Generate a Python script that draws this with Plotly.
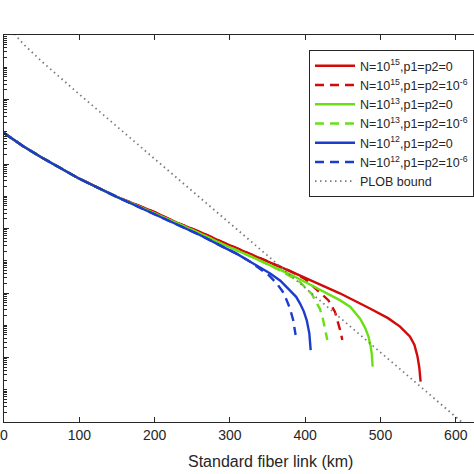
import plotly.graph_objects as go

# distances (km) and key rates
l_blue = [0, 25, 50, 75, 100, 150, 200, 230, 260, 290, 310, 327, 340, 353, 367, 380, 388, 393, 398, 402, 405.5, 407.3]
r_blue = [9.1e-4, 3.6e-4, 1.6e-4, 7.6e-5, 3.5e-5, 9.5e-6, 2.8e-6, 1.35e-6, 6.3e-7, 2.75e-7,
          1.6e-7, 9.3e-8, 6.3e-8, 4.1e-8, 2.4e-8, 1.23e-8, 7.6e-9, 4.8e-9, 2.75e-9, 1.45e-9, 5.6e-10, 1.7e-10]

l_blue_d = [0, 25, 50, 75, 100, 150, 200, 230, 260, 290, 310, 327, 340, 352, 362, 370, 375.4, 380, 384, 387.3]
r_blue_d = [9.1e-4, 3.6e-4, 1.6e-4, 7.6e-5, 3.5e-5, 9.5e-6, 2.8e-6, 1.35e-6, 6.3e-7, 2.75e-7,
            1.6e-7, 9.3e-8, 5.6e-8, 3.5e-8, 2.0e-8, 1.12e-8, 6.0e-9, 3.2e-9, 1.45e-9, 5.0e-10]

l_green = [0, 25, 50, 75, 100, 150, 200, 230, 260, 290, 327, 350, 380, 400, 420, 446, 460, 473, 480, 484, 487, 488.5, 489.6]
r_green = [9.1e-4, 3.6e-4, 1.6e-4, 7.6e-5, 3.5e-5, 9.5e-6, 3.0e-6, 1.45e-6, 7.1e-7, 3.3e-7,
           1.4e-7, 8.1e-8, 3.8e-8, 2.2e-8, 1.26e-8, 6.0e-9, 3.7e-9, 1.6e-9, 7.9e-10, 4.5e-10,
           2.2e-10, 1.26e-10, 5.2e-11]

l_green_d = [0, 25, 50, 75, 100, 150, 200, 230, 260, 290, 327, 340, 366.5, 393, 408.5, 415, 419.6, 423, 426, 429.4]
r_green_d = [9.1e-4, 3.6e-4, 1.6e-4, 7.6e-5, 3.5e-5, 9.5e-6, 3.0e-6, 1.45e-6, 7.1e-7, 3.3e-7,
             1.4e-7, 1.02e-7, 5.0e-8, 2.2e-8, 9.5e-9, 5.2e-9, 3.2e-9, 1.8e-9, 9.1e-10, 3.5e-10]

l_red = [0, 25, 50, 75, 100, 150, 200, 230, 260, 290, 327, 350, 380, 400, 420, 446, 486, 510, 526, 539, 545, 549, 551.5, 553.3]
r_red = [9.1e-4, 3.6e-4, 1.6e-4, 7.6e-5, 3.5e-5, 9.6e-6, 3.2e-6, 1.5e-6, 7.9e-7, 3.8e-7,
         1.66e-7, 9.5e-8, 4.8e-8, 2.95e-8, 1.86e-8, 9.8e-9, 3.3e-9, 1.66e-9, 9.1e-10, 4.5e-10,
         2.5e-10, 1.12e-10, 5.0e-11, 1.8e-11]

l_red_d = [0, 25, 50, 75, 100, 150, 200, 230, 260, 290, 327, 350, 380, 400, 415, 430.7, 439.6, 444, 447, 449.3]
r_red_d = [9.1e-4, 3.6e-4, 1.6e-4, 7.6e-5, 3.5e-5, 9.6e-6, 3.2e-6, 1.5e-6, 7.9e-7, 3.8e-7,
           1.66e-7, 9.5e-8, 4.8e-8, 2.7e-8, 1.32e-8, 6.0e-9, 2.6e-9, 1.15e-9, 6.3e-10, 3.5e-10]

l_plob = [10, 15, 25, 50, 100, 200, 300, 400, 500, 600, 650]
r_plob = [1.44, 1.0, 0.548, 0.152, 1.45e-2, 1.44e-4, 1.44e-6, 1.44e-8, 1.44e-10, 1.44e-12, 1.44e-13]

names = [
    "N=10<sup>15</sup>,p1=p2=0",
    "N=10<sup>15</sup>,p1=p2=10<sup>-6</sup>",
    "N=10<sup>13</sup>,p1=p2=0",
    "N=10<sup>13</sup>,p1=p2=10<sup>-6</sup>",
    "N=10<sup>12</sup>,p1=p2=0",
    "N=10<sup>12</sup>,p1=p2=10<sup>-6</sup>",
    "PLOB bound",
]

RED = "#d10a0a"
GREEN = "#6ae014"
BLUE = "#1c3ccc"

fig = go.Figure()

series = [
    (l_red, r_red, RED, "solid"),
    (l_red_d, r_red_d, RED, "dash"),
    (l_green, r_green, GREEN, "solid"),
    (l_green_d, r_green_d, GREEN, "dash"),
    (l_blue, r_blue, BLUE, "solid"),
    (l_blue_d, r_blue_d, BLUE, "dash"),
]
for (xs, ys, col, dash), nm in zip(series, names):
    fig.add_trace(go.Scatter(x=xs, y=ys, mode="lines", name=nm,
                             line=dict(color=col, width=2.4, dash=dash if dash == "solid" else "9px,6px")))

fig.add_trace(go.Scatter(x=l_plob, y=r_plob, mode="lines", name=names[6],
                         line=dict(color="#7a7a7a", width=1.8, dash="1.5px,3.5px")))

# minor ticks: each decade plus sub-decade marks
minor_vals = []
for e in range(-12, 0):
    for k in range(1, 10):
        if k == 1 and e % 2 == 0:
            continue
        minor_vals.append(k * 10.0 ** e)

axis_col = "#262626"
fig.update_xaxes(range=[0, 624.2], tickvals=[0, 100, 200, 300, 400, 500, 600],
                 ticks="inside", ticklen=5, tickcolor=axis_col, showline=True,
                 linecolor=axis_col, linewidth=1, mirror="ticks", showgrid=False,
                 zeroline=False, automargin=False, tickfont=dict(size=14, color=axis_col))
fig.update_yaxes(type="log", range=[-12, 0],
                 tickvals=[1e-12, 1e-10, 1e-8, 1e-6, 1e-4, 1e-2, 1],
                 ticks="inside", ticklen=5, tickcolor=axis_col, showline=True,
                 linecolor=axis_col, linewidth=1, showgrid=False, showticklabels=False,
                 automargin=False,
                 minor=dict(tickvals=minor_vals, ticks="inside", ticklen=2.5, tickcolor=axis_col))

# x title placed where the reference has it (plot is cropped on the right)
fig.add_annotation(text="Standard fiber link (km)", x=(270 - 4) / 470, y=-(461 - 422) / 387,
                   xref="paper", yref="paper", xanchor="center", yanchor="middle",
                   showarrow=False, font=dict(size=16, color=axis_col))

fig.update_layout(
    width=474, height=474,
    margin=dict(l=4, r=0, t=35, b=52),
    plot_bgcolor="white", paper_bgcolor="white",
    font=dict(family="Liberation Sans, Arial, sans-serif", color=axis_col),
    legend=dict(x=0.649, y=0.961, xanchor="left", yanchor="top",
                bgcolor="white", bordercolor=axis_col, borderwidth=1,
                font=dict(size=12.5, color=axis_col), tracegroupgap=0, itemwidth=40),
)

# drop the page's default body margin so the figure sits at the window corner
fig.write_html("out.html", config={"displayModeBar": False},
               post_script="document.body.style.margin='0';")
